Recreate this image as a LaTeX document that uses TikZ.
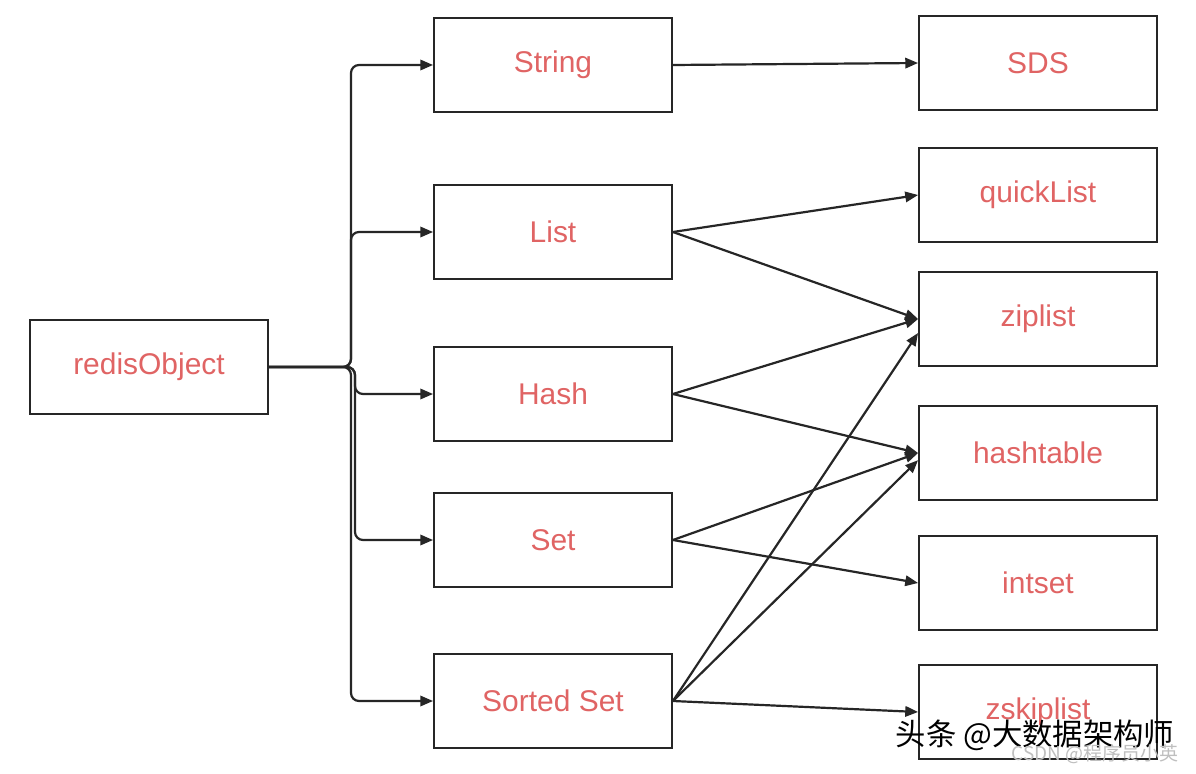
\documentclass[tikz,border=0pt]{standalone}
\usepackage{fontspec}
\setmainfont{Liberation Sans}
\newfontfamily\cjk{Noto Sans CJK SC}
\usetikzlibrary{arrows.meta}
\definecolor{boxred}{HTML}{E06464}
\tikzstyle{typebox} = [draw=black!85,line width=0.045cm,fill=white,minimum width=5.95cm,minimum height=2.35cm,text=boxred,font=\fontsize{21.3}{25}\selectfont]
\tikzstyle{link} = [line width=0.055cm,black!85,-{Triangle[length=0.32cm,width=0.26cm]}]

\begin{document}
\begin{tikzpicture}[x=0.025cm,y=-0.025cm]
\fill[white] (0,0) rectangle (1196,774);
\useasboundingbox (0,0) rectangle (1196,774);

\node[typebox] at (149,367) (obj) {redisObject};
\foreach \name/\y [count=\i] in {String/65, List/232, Hash/394, Set/540, Sorted Set/701} {
	\node[typebox] at (553,\y) (type\i) {\name};
}
\foreach \name/\y [count=\i] in {SDS/63, quickList/195, ziplist/319, hashtable/453, intset/583, zskiplist/712} {
	\node[typebox] at (1038,\y) (enc\i) {\name};
}

% redisObject to the types
\coordinate (fork) at (351,367);
\foreach \i/\dx in {1/0, 2/0, 3/0.1, 4/0.1, 5/0} {
	\draw[link,rounded corners=0.2cm] (obj.east) -- ([xshift=\dx cm]fork) |- (type\i.west);
}

% types to encodings
\foreach \a/\b in {1/1, 2/2, 2/3, 3/3, 3/4, 4/4, 4/5, 5/6} {
	\draw[link] (type\a.east) -- (enc\b.west);
}
\draw[link] (type5.east) -- ([yshift=-0.35cm]enc3.west);
\draw[link] (type5.east) -- ([yshift=-0.18cm]enc4.west);

\node[font=\cjk\fontsize{21.6}{25}\selectfont] at (1035,735) (mark) {头条 @大数据架构师};
\node[font=\cjk\fontsize{13.5}{16}\selectfont,text=black!25] at (1095,754) (csdn) {CSDN @程序员小英};
\end{tikzpicture}
\end{document}
